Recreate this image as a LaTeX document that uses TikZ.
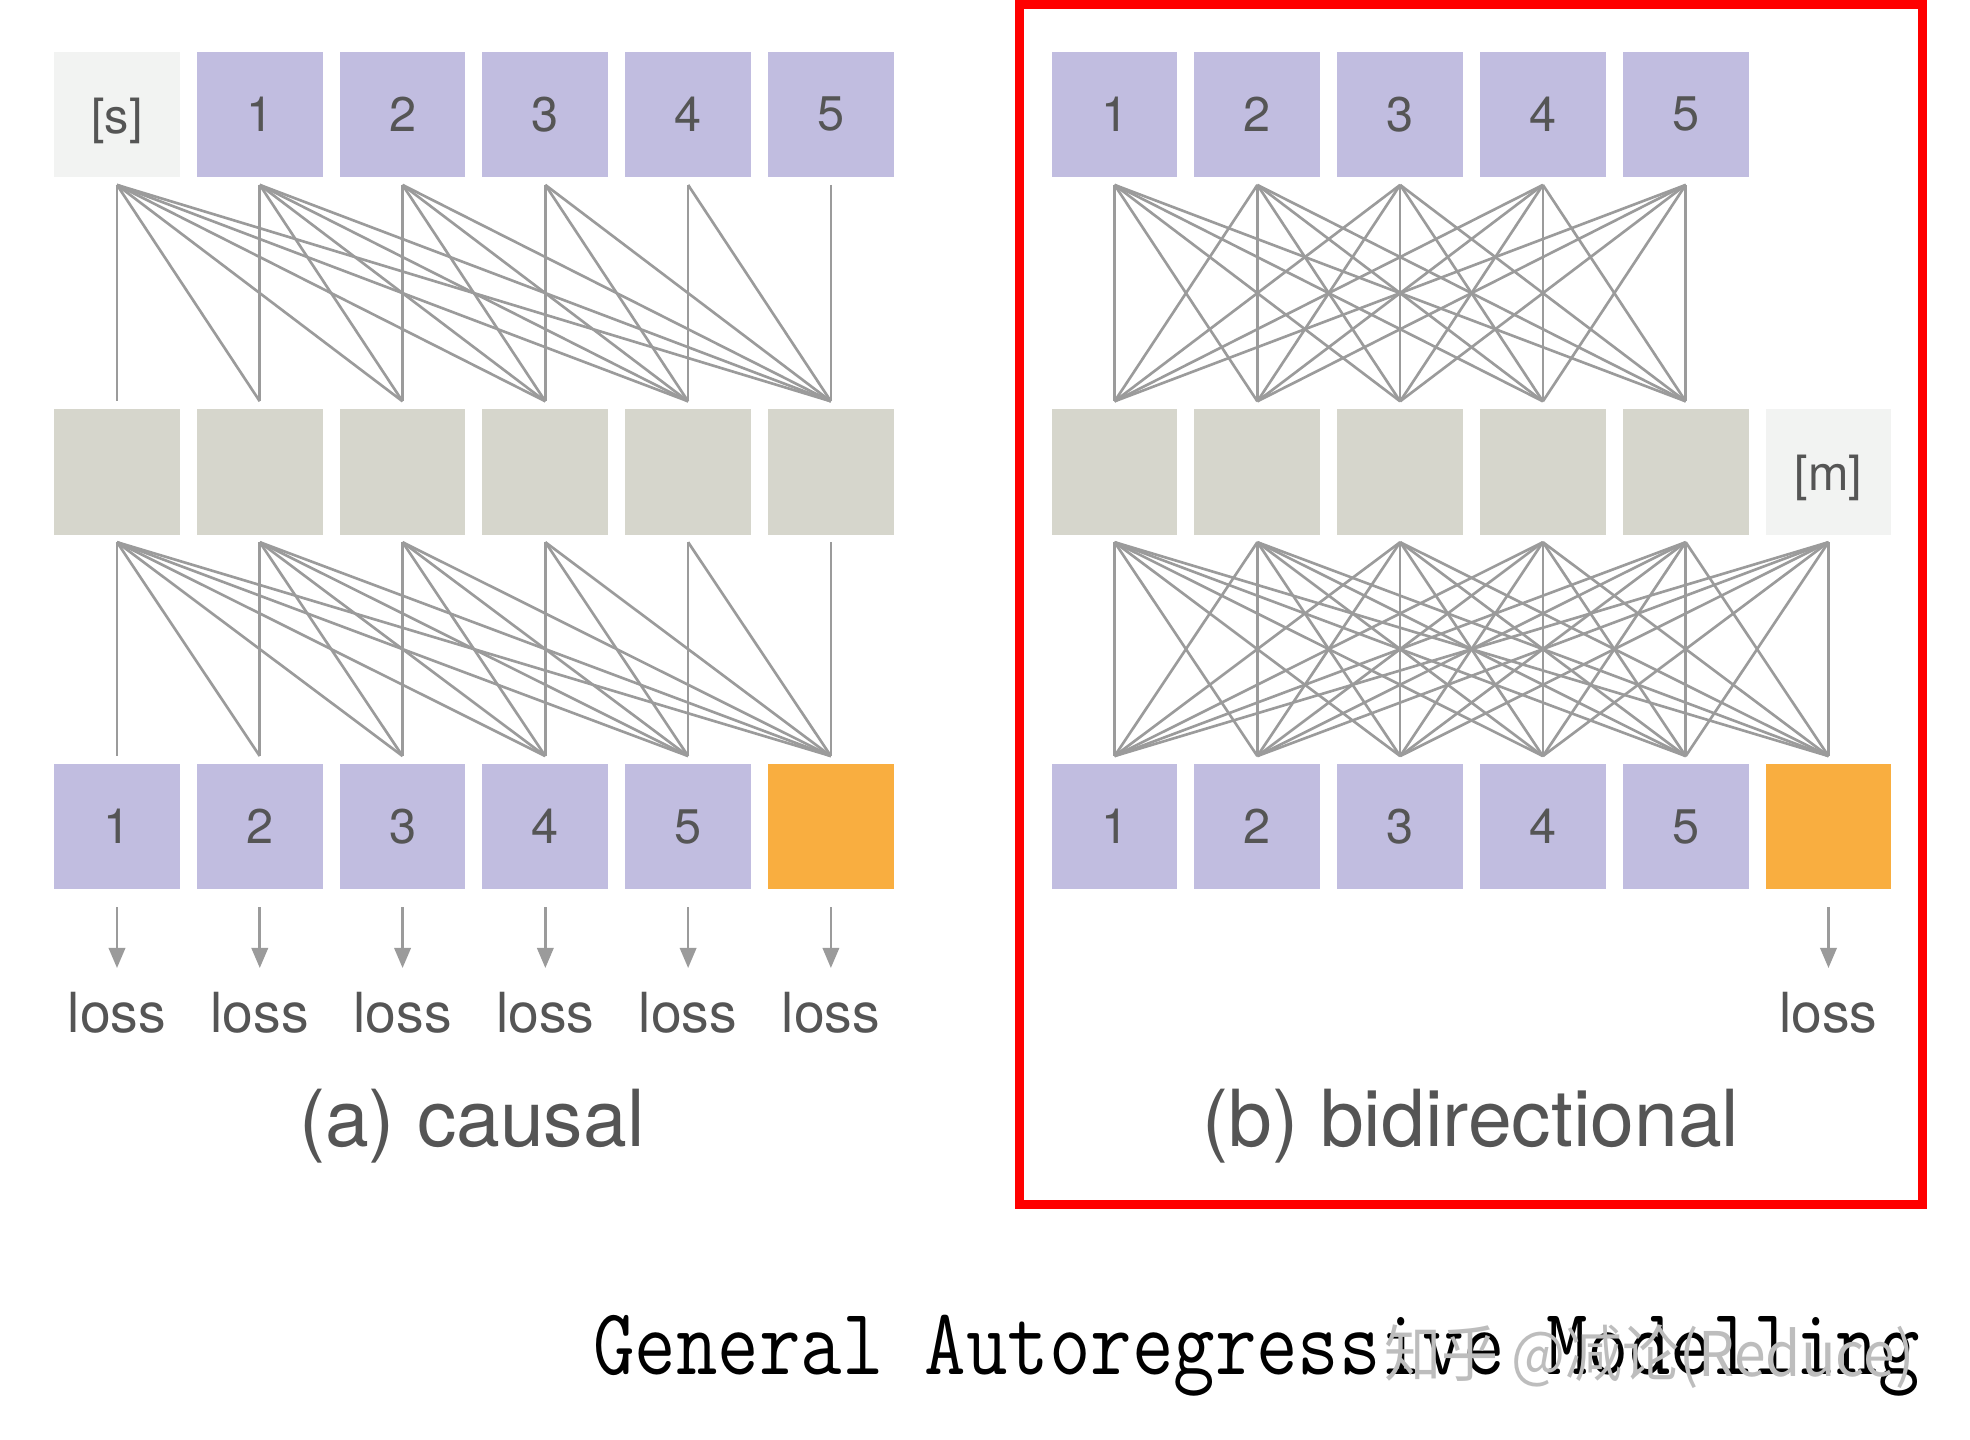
\documentclass[tikz,border=0pt]{standalone}
\usepackage{fontspec}
\usepackage{graphicx}
\setmainfont{TeX Gyre Heros}
\newfontfamily\cjkfont{Noto Sans CJK SC}
\usetikzlibrary{arrows.meta, positioning}
\definecolor{tokpurple}{HTML}{C1BDE0}
\definecolor{hidgray}{HTML}{D6D6CC}
\definecolor{specgray}{HTML}{F2F3F2}
\definecolor{predorange}{HTML}{F9AE40}
\definecolor{textgray}{HTML}{555555}
\definecolor{linegray}{HTML}{9B9B9B}
\definecolor{markgray}{HTML}{BDBDBD}
\tikzstyle{block} = [rectangle, minimum width=10mm, minimum height=10mm, inner sep=0pt, outer xsep=0pt, outer ysep=0.6mm, text=textgray, font=\fontsize{11}{13}\selectfont]
\tikzstyle{inblock} = [block, fill=tokpurple]
\tikzstyle{hidblock} = [block, fill=hidgray]
\tikzstyle{specblock} = [block, fill=specgray, text height=3.8mm]
\tikzstyle{predblock} = [block, fill=predorange]
\tikzstyle{link} = [draw=linegray, line width=0.6pt]
\tikzstyle{lossarrow} = [->, draw=linegray, line width=0.6pt, shorten <=0.8mm, shorten >=1.85mm]
\tikzstyle{losslabel} = [inner sep=0pt, text=textgray, font=\fontsize{12.5}{14}\selectfont]
\tikzstyle{caption} = [inner sep=0pt, text=textgray, font=\fontsize{17.8}{20}\selectfont]

\begin{document}
\begin{tikzpicture}[x=0.1mm, y=-0.1mm, >={Triangle[length=1.6mm, width=1.3mm]}]
  \useasboundingbox (0,0) rectangle (1566,1143.9);

  % (a) causal
  \node[specblock] (ca-t0) at (93,91) {[s]};
  \foreach \i in {1,...,5}
    \node[inblock] (ca-t\i) at (93+113.5*\i,91) {\i};
  \foreach \i in {0,...,5}
    \node[hidblock] (ca-m\i) at (93+113.5*\i,375) {};
  \foreach \i in {0,...,4}
    \node[inblock] (ca-b\i) at (93+113.5*\i,657) {\the\numexpr\i+1\relax};
  \node[predblock] (ca-b5) at (660.5,657) {};
  \foreach \i in {0,...,5}
    \foreach \j in {\i,...,5} {
      \draw[link] (ca-t\i.south) -- (ca-m\j.north);
      \draw[link] (ca-m\i.south) -- (ca-b\j.north);
    }
  \foreach \i in {0,...,5} {
    \node[losslabel, below=7.5mm of ca-b\i] (ca-l\i) {loss};
    \draw[lossarrow] (ca-b\i.south) -- (ca-l\i.north);
  }
  \node[caption] (ca-cap) at (375,895) {(a) causal};

  % (b) bidirectional
  \foreach \i in {1,...,5} {
    \node[inblock] (bi-t\i) at (772.5+113.5*\i,91) {\i};
    \node[hidblock] (bi-m\i) at (772.5+113.5*\i,375) {};
    \node[inblock] (bi-b\i) at (772.5+113.5*\i,657) {\i};
  }
  \node[specblock] (bi-m6) at (1453.5,375) {[m]};
  \node[predblock] (bi-b6) at (1453.5,657) {};
  \foreach \i in {1,...,5}
    \foreach \j in {1,...,5}
      \draw[link] (bi-t\i.south) -- (bi-m\j.north);
  \foreach \i in {1,...,6}
    \foreach \j in {1,...,6}
      \draw[link] (bi-m\i.south) -- (bi-b\j.north);
  \node[losslabel, below=7.5mm of bi-b6] (bi-l6) {loss};
  \draw[lossarrow] (bi-b6.south) -- (bi-l6.north);
  \node[caption] (bi-cap) at (1169,895) {(b) bidirectional};

  \draw[red, line width=2pt] (810.5,3.5) rectangle (1528.5,957.5);

  % title and mark
  \node[anchor=base west, inner sep=0pt] (title) at (471,1093)
    {\scalebox{1}[1.18]{\ttfamily\fontsize{18.2}{20}\selectfont General Autoregressive Modelling}};
  \node[anchor=base west, inner sep=0pt, text=markgray] (mark) at (1100,1094)
    {\scalebox{0.955}[1.03]{\cjkfont\fontsize{13.5}{15}\selectfont 知乎 @减论(Reduce)}};
\end{tikzpicture}
\end{document}
